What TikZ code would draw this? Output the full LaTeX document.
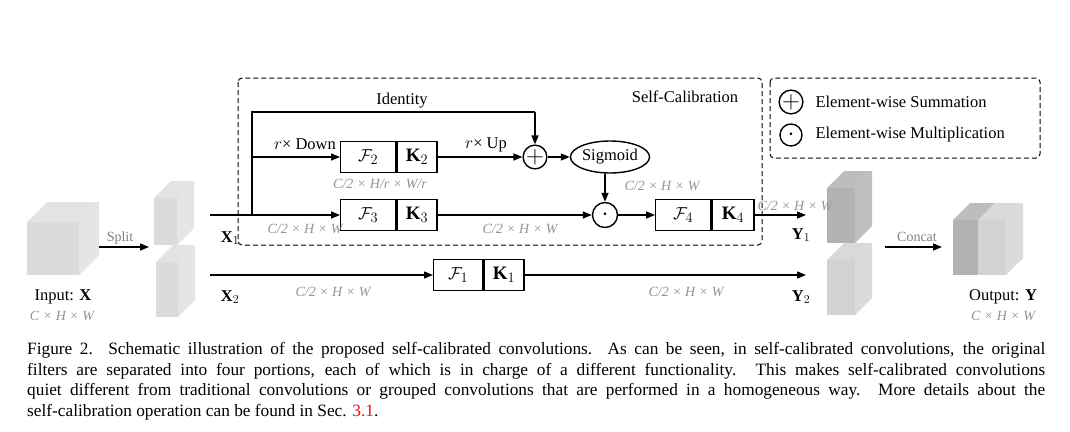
\documentclass[tikz,border=0pt]{standalone}
\usepackage{fontspec}
\setmainfont{Liberation Serif}
\usetikzlibrary{shapes.geometric,arrows.meta}
\newcommand\mycube[8]{% x y w h d front side top
  \fill[#6] (#1,#2) rectangle ++(#3,#4);
  \fill[#7] (#1+#3,#2) -- ++(#5,-#5) -- ++(0,#4) -- ++(-#5,#5) -- cycle;
  \fill[#8] (#1,#2) -- ++(#5,-#5) -- ++(#3,0) -- ++(-#5,#5) -- cycle;}
\begin{document}
\begin{tikzpicture}[x=1pt,y=-1pt,font=\fontsize{16.5}{18}\selectfont,
  ar/.style={-{Triangle[length=9pt,width=7pt]},line width=1.4pt},
  ln/.style={line width=1.4pt},
  blk/.style={draw,line width=1.4pt,minimum height=31pt,inner sep=0pt,anchor=west,font=\fontsize{19}{20}\selectfont},
  op/.style={circle,draw,line width=1.4pt,inner sep=0pt,font=\fontsize{24}{24}\selectfont},
  dim/.style={text=gray!85,font=\fontsize{14}{16}\selectfont\itshape},
  lbl/.style={text=gray,font=\fontsize{14}{16}\selectfont}]
\useasboundingbox (0,0) rectangle (1070,431);
% cubes
\mycube{27}{222}{52}{53}{20}{gray!28}{gray!20}{gray!22}
\mycube{154}{198}{23}{47}{17}{gray!28}{gray!20}{gray!22}
\mycube{156}{262}{22}{55}{17}{gray!28}{gray!20}{gray!22}
\mycube{827}{188}{28}{55}{17}{gray!60}{gray!50}{gray!52}
\mycube{827}{260}{28}{55}{17}{gray!35}{gray!28}{gray!30}
\mycube{953}{220}{25}{55}{17}{gray!60}{gray!50}{gray!52}
\mycube{978}{220}{28}{55}{17}{gray!35}{gray!28}{gray!30}
% frames
\draw[dash pattern=on 5pt off 3pt,line width=1pt,rounded corners=4pt] (238,78) rectangle (762,245);
\draw[dash pattern=on 5pt off 3pt,line width=1pt,rounded corners=4pt] (770,78) rectangle (1040,158);
\node (sc) at (685,97) {Self-Calibration};
\node[op,minimum size=22pt] (lp) at (791,102) {$+$};
\node[anchor=west] (lpt) at (812,102) {Element-wise Summation};
\node[op,minimum size=22pt] (lm) at (791,135) {$\cdot$};
\node[anchor=west] (lmt) at (812,135) {Element-wise Multiplication};
% labels
\node (inx) at (63,297) {Input: $\mathbf{X}$};
\node[dim] (inc) at (62,316) {C × H × W};
\node (outy) at (1003,297) {Output: $\mathbf{Y}$};
\node[dim] (outc) at (1003,316) {C × H × W};
\node[lbl] at (120,238) {Split};
\node[lbl] at (917,237) {Concat};
\coordinate (s1) at (99,247); \coordinate (s2) at (149,247);
\draw[ar] (s1) -- (s2);
\coordinate (c1) at (885,247); \coordinate (c2) at (942,247);
\draw[ar] (c1) -- (c2);
% blocks
\node[blk,minimum width=55pt] (f2) at (340,157) {$\mathcal{F}_2$};
\node[blk,minimum width=40pt,anchor=west] (k2) at (f2.east) {$\mathbf{K}_2$};
\node[blk,minimum width=55pt] (f3) at (340,215) {$\mathcal{F}_3$};
\node[blk,minimum width=40pt,anchor=west] (k3) at (f3.east) {$\mathbf{K}_3$};
\node[blk,minimum width=55pt] (f4) at (655,215) {$\mathcal{F}_4$};
\node[blk,minimum width=42pt,anchor=west] (k4) at (f4.east) {$\mathbf{K}_4$};
\node[blk,minimum width=49pt] (f1) at (433,275) {$\mathcal{F}_1$};
\node[blk,minimum width=40pt,anchor=west] (k1) at (f1.east) {$\mathbf{K}_1$};
\node[op,minimum size=20pt] (plus) at (535,157) {$+$};
\node[ellipse,draw,line width=1.4pt,minimum width=74pt,minimum height=32pt,inner sep=0pt] (sig) at (610,157) {Sigmoid};
\node[op,minimum size=25pt] (dot) at (605,215) {$\cdot$};
% endpoints
\coordinate (x1s) at (210,215); \coordinate (br) at (252,215);
\coordinate (bd) at (252,157); \coordinate (bi) at (252,112); \coordinate (bi2) at (535,112);
\coordinate (y1e) at (806,215);
\coordinate (x2s) at (210,275); \coordinate (y2e) at (806,275);
\draw[ln] (x1s) -- (br);
\draw[ar] (br) -- (f3.west);
\draw[ln] (br) -- (bi) -- (bi2);
\draw[ar] (bi2) -- (plus.north);
\draw[ar] (bd) -- (f2.west);
\draw[ar] (k2.east) -- (plus.west);
\draw[ar] (plus.east) -- (sig.west);
\draw[ar] (sig.south -| dot.north) -- (dot.north);
\draw[ar] (k3.east) -- (dot.west);
\draw[ar] (dot.east) -- (f4.west);
\draw[ar] (k4.east) -- (y1e);
\draw[ar] (x2s) -- (f1.west);
\draw[ar] (k1.east) -- (y2e);
% text labels
\node (id) at (402,101) {Identity};
\node (rd) at (305,144) {$r$× Down};
\node (ru) at (486,145) {$r$× Up};
\node[dim] at (380,184) {C/2 × H/r × W/r};
\node[dim] at (305,229) {C/2 × H × W};
\node[dim] at (520,229) {C/2 × H × W};
\node[dim] at (662,186) {C/2 × H × W};
\node[dim] at (795,206) {C/2 × H × W};
\node[dim] at (333,292) {C/2 × H × W};
\node[dim] at (686,292) {C/2 × H × W};
\node (x1) at (230,238) {$\mathbf{X}_1$};
\node (x2) at (230,297) {$\mathbf{X}_2$};
\node (y1) at (801,235) {$\mathbf{Y}_1$};
\node (y2) at (801,297) {$\mathbf{Y}_2$};
% caption
\begin{scope}[every node/.style={anchor=base west,inner sep=0pt,font=\fontsize{17.3}{19}\selectfont}]
\node at (27,354) {\makebox[1018pt][s]{Figure 2. Schematic illustration of the proposed self-calibrated convolutions. As can be seen, in self-calibrated convolutions, the original}};
\node at (27,375) {\makebox[1018pt][s]{filters are separated into four portions, each of which is in charge of a different functionality.  This makes self-calibrated convolutions}};
\node at (27,395) {\makebox[1018pt][s]{quiet different from traditional convolutions or grouped convolutions that are performed in a homogeneous way. More details about the}};
\node at (27,416) {self-calibration operation can be found in Sec. \textcolor{red}{3.1}.};
\end{scope}
\end{tikzpicture}
\end{document}
